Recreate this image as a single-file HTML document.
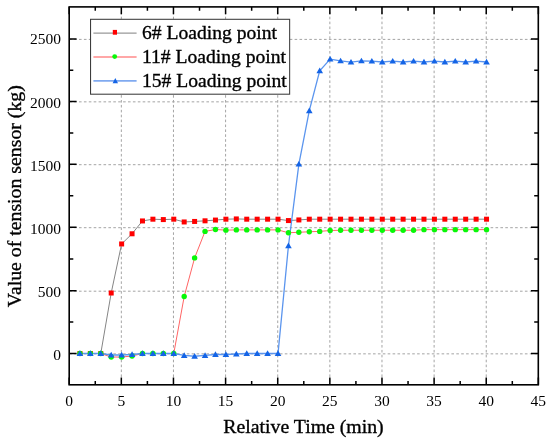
<!DOCTYPE html><html><head><meta charset="utf-8"><style>html,body{margin:0;padding:0;background:#fff;width:550px;height:443px;overflow:hidden}svg{display:block;filter:blur(0.3px)}text{font-family:"Liberation Serif","Times New Roman",serif;fill:#000;stroke:#000;stroke-width:0.35px}text.t{stroke:none}</style></head><body>
<svg width="550" height="443" viewBox="0 0 550 443">
<path d="M121.33 6.90V384.80M173.46 6.90V384.80M225.59 6.90V384.80M277.72 6.90V384.80M329.85 6.90V384.80M381.98 6.90V384.80M434.11 6.90V384.80M486.24 6.90V384.80M69.20 353.85H538.30M69.20 291.20H538.30M69.20 227.70H538.30M69.20 164.70H538.30M69.20 101.85H538.30M69.20 39.40H538.30" stroke="#a4a4a4" stroke-width="1" stroke-dasharray="2.6 2.3" fill="none"/>
<polyline points="79.93,353.50 90.35,353.50 100.78,353.50 111.20,293.01 121.63,243.96 132.06,233.78 142.48,220.95 152.91,219.19 163.33,219.57 173.76,219.19 184.19,221.96 194.61,221.45 205.04,220.82 215.46,220.07 225.89,219.19 236.32,218.94 246.74,219.19 257.17,219.19 267.59,219.19 278.02,219.19 288.45,220.57 298.87,219.94 309.30,219.19 319.72,219.19 330.15,219.19 340.58,219.19 351.00,219.19 361.43,219.19 371.85,219.19 382.28,219.19 392.71,219.19 403.13,219.19 413.56,219.19 423.98,219.19 434.41,219.19 444.84,219.19 455.26,219.19 465.69,219.19 476.11,219.19 486.54,219.19" fill="none" stroke="#858585" stroke-width="1"/>
<polyline points="79.93,353.50 90.35,353.50 100.78,353.50 111.20,357.02 121.63,357.02 132.06,356.02 142.48,353.50 152.91,353.50 163.33,353.50 173.76,353.50 184.19,296.53 194.61,257.92 205.04,231.39 215.46,229.50 225.89,230.13 236.32,229.88 246.74,229.88 257.17,229.88 267.59,229.88 278.02,229.88 288.45,232.77 298.87,232.27 309.30,231.76 319.72,231.39 330.15,230.51 340.58,230.26 351.00,230.26 361.43,230.26 371.85,230.26 382.28,230.26 392.71,230.26 403.13,230.26 413.56,230.26 423.98,229.63 434.41,229.63 444.84,229.63 455.26,229.63 465.69,229.63 476.11,229.63 486.54,229.63" fill="none" stroke="#ff6464" stroke-width="1"/>
<polyline points="79.93,353.50 90.35,353.50 100.78,353.50 111.20,355.01 121.63,355.01 132.06,354.51 142.48,353.50 152.91,353.50 163.33,353.50 173.76,353.50 184.19,355.39 194.61,356.27 205.04,355.39 215.46,354.51 225.89,354.51 236.32,354.00 246.74,353.50 257.17,353.50 267.59,353.50 278.02,353.50 288.45,245.72 298.87,164.11 309.30,110.66 319.72,70.79 330.15,59.10 340.58,60.86 351.00,62.11 361.43,60.86 371.85,61.11 382.28,61.99 392.71,61.11 403.13,61.99 413.56,61.11 423.98,61.99 434.41,61.11 444.84,61.99 455.26,61.11 465.69,61.99 476.11,61.11 486.54,61.99" fill="none" stroke="#5b95ee" stroke-width="1.3"/>
<rect x="77.43" y="351.00" width="5" height="5" fill="#ff0000"/><rect x="87.85" y="351.00" width="5" height="5" fill="#ff0000"/><rect x="98.28" y="351.00" width="5" height="5" fill="#ff0000"/><rect x="108.70" y="290.51" width="5" height="5" fill="#ff0000"/><rect x="119.13" y="241.46" width="5" height="5" fill="#ff0000"/><rect x="129.56" y="231.28" width="5" height="5" fill="#ff0000"/><rect x="139.98" y="218.45" width="5" height="5" fill="#ff0000"/><rect x="150.41" y="216.69" width="5" height="5" fill="#ff0000"/><rect x="160.83" y="217.07" width="5" height="5" fill="#ff0000"/><rect x="171.26" y="216.69" width="5" height="5" fill="#ff0000"/><rect x="181.69" y="219.46" width="5" height="5" fill="#ff0000"/><rect x="192.11" y="218.95" width="5" height="5" fill="#ff0000"/><rect x="202.54" y="218.32" width="5" height="5" fill="#ff0000"/><rect x="212.96" y="217.57" width="5" height="5" fill="#ff0000"/><rect x="223.39" y="216.69" width="5" height="5" fill="#ff0000"/><rect x="233.82" y="216.44" width="5" height="5" fill="#ff0000"/><rect x="244.24" y="216.69" width="5" height="5" fill="#ff0000"/><rect x="254.67" y="216.69" width="5" height="5" fill="#ff0000"/><rect x="265.09" y="216.69" width="5" height="5" fill="#ff0000"/><rect x="275.52" y="216.69" width="5" height="5" fill="#ff0000"/><rect x="285.95" y="218.07" width="5" height="5" fill="#ff0000"/><rect x="296.37" y="217.44" width="5" height="5" fill="#ff0000"/><rect x="306.80" y="216.69" width="5" height="5" fill="#ff0000"/><rect x="317.22" y="216.69" width="5" height="5" fill="#ff0000"/><rect x="327.65" y="216.69" width="5" height="5" fill="#ff0000"/><rect x="338.08" y="216.69" width="5" height="5" fill="#ff0000"/><rect x="348.50" y="216.69" width="5" height="5" fill="#ff0000"/><rect x="358.93" y="216.69" width="5" height="5" fill="#ff0000"/><rect x="369.35" y="216.69" width="5" height="5" fill="#ff0000"/><rect x="379.78" y="216.69" width="5" height="5" fill="#ff0000"/><rect x="390.21" y="216.69" width="5" height="5" fill="#ff0000"/><rect x="400.63" y="216.69" width="5" height="5" fill="#ff0000"/><rect x="411.06" y="216.69" width="5" height="5" fill="#ff0000"/><rect x="421.48" y="216.69" width="5" height="5" fill="#ff0000"/><rect x="431.91" y="216.69" width="5" height="5" fill="#ff0000"/><rect x="442.34" y="216.69" width="5" height="5" fill="#ff0000"/><rect x="452.76" y="216.69" width="5" height="5" fill="#ff0000"/><rect x="463.19" y="216.69" width="5" height="5" fill="#ff0000"/><rect x="473.61" y="216.69" width="5" height="5" fill="#ff0000"/><rect x="484.04" y="216.69" width="5" height="5" fill="#ff0000"/><circle cx="79.93" cy="353.50" r="2.7" fill="#08f808"/><circle cx="90.35" cy="353.50" r="2.7" fill="#08f808"/><circle cx="100.78" cy="353.50" r="2.7" fill="#08f808"/><circle cx="111.20" cy="357.02" r="2.7" fill="#08f808"/><circle cx="121.63" cy="357.02" r="2.7" fill="#08f808"/><circle cx="132.06" cy="356.02" r="2.7" fill="#08f808"/><circle cx="142.48" cy="353.50" r="2.7" fill="#08f808"/><circle cx="152.91" cy="353.50" r="2.7" fill="#08f808"/><circle cx="163.33" cy="353.50" r="2.7" fill="#08f808"/><circle cx="173.76" cy="353.50" r="2.7" fill="#08f808"/><circle cx="184.19" cy="296.53" r="2.7" fill="#08f808"/><circle cx="194.61" cy="257.92" r="2.7" fill="#08f808"/><circle cx="205.04" cy="231.39" r="2.7" fill="#08f808"/><circle cx="215.46" cy="229.50" r="2.7" fill="#08f808"/><circle cx="225.89" cy="230.13" r="2.7" fill="#08f808"/><circle cx="236.32" cy="229.88" r="2.7" fill="#08f808"/><circle cx="246.74" cy="229.88" r="2.7" fill="#08f808"/><circle cx="257.17" cy="229.88" r="2.7" fill="#08f808"/><circle cx="267.59" cy="229.88" r="2.7" fill="#08f808"/><circle cx="278.02" cy="229.88" r="2.7" fill="#08f808"/><circle cx="288.45" cy="232.77" r="2.7" fill="#08f808"/><circle cx="298.87" cy="232.27" r="2.7" fill="#08f808"/><circle cx="309.30" cy="231.76" r="2.7" fill="#08f808"/><circle cx="319.72" cy="231.39" r="2.7" fill="#08f808"/><circle cx="330.15" cy="230.51" r="2.7" fill="#08f808"/><circle cx="340.58" cy="230.26" r="2.7" fill="#08f808"/><circle cx="351.00" cy="230.26" r="2.7" fill="#08f808"/><circle cx="361.43" cy="230.26" r="2.7" fill="#08f808"/><circle cx="371.85" cy="230.26" r="2.7" fill="#08f808"/><circle cx="382.28" cy="230.26" r="2.7" fill="#08f808"/><circle cx="392.71" cy="230.26" r="2.7" fill="#08f808"/><circle cx="403.13" cy="230.26" r="2.7" fill="#08f808"/><circle cx="413.56" cy="230.26" r="2.7" fill="#08f808"/><circle cx="423.98" cy="229.63" r="2.7" fill="#08f808"/><circle cx="434.41" cy="229.63" r="2.7" fill="#08f808"/><circle cx="444.84" cy="229.63" r="2.7" fill="#08f808"/><circle cx="455.26" cy="229.63" r="2.7" fill="#08f808"/><circle cx="465.69" cy="229.63" r="2.7" fill="#08f808"/><circle cx="476.11" cy="229.63" r="2.7" fill="#08f808"/><circle cx="486.54" cy="229.63" r="2.7" fill="#08f808"/><path d="M79.93 350.30L83.23 356.00H76.63Z" fill="#1464e6"/><path d="M90.35 350.30L93.65 356.00H87.05Z" fill="#1464e6"/><path d="M100.78 350.30L104.08 356.00H97.48Z" fill="#1464e6"/><path d="M111.20 351.81L114.50 357.51H107.90Z" fill="#1464e6"/><path d="M121.63 351.81L124.93 357.51H118.33Z" fill="#1464e6"/><path d="M132.06 351.31L135.36 357.01H128.76Z" fill="#1464e6"/><path d="M142.48 350.30L145.78 356.00H139.18Z" fill="#1464e6"/><path d="M152.91 350.30L156.21 356.00H149.61Z" fill="#1464e6"/><path d="M163.33 350.30L166.63 356.00H160.03Z" fill="#1464e6"/><path d="M173.76 350.30L177.06 356.00H170.46Z" fill="#1464e6"/><path d="M184.19 352.19L187.49 357.89H180.89Z" fill="#1464e6"/><path d="M194.61 353.07L197.91 358.77H191.31Z" fill="#1464e6"/><path d="M205.04 352.19L208.34 357.89H201.74Z" fill="#1464e6"/><path d="M215.46 351.31L218.76 357.01H212.16Z" fill="#1464e6"/><path d="M225.89 351.31L229.19 357.01H222.59Z" fill="#1464e6"/><path d="M236.32 350.80L239.62 356.50H233.02Z" fill="#1464e6"/><path d="M246.74 350.30L250.04 356.00H243.44Z" fill="#1464e6"/><path d="M257.17 350.30L260.47 356.00H253.87Z" fill="#1464e6"/><path d="M267.59 350.30L270.89 356.00H264.29Z" fill="#1464e6"/><path d="M278.02 350.30L281.32 356.00H274.72Z" fill="#1464e6"/><path d="M288.45 242.52L291.75 248.22H285.15Z" fill="#1464e6"/><path d="M298.87 160.91L302.17 166.61H295.57Z" fill="#1464e6"/><path d="M309.30 107.46L312.60 113.16H306.00Z" fill="#1464e6"/><path d="M319.72 67.59L323.02 73.29H316.42Z" fill="#1464e6"/><path d="M330.15 55.90L333.45 61.60H326.85Z" fill="#1464e6"/><path d="M340.58 57.66L343.88 63.36H337.28Z" fill="#1464e6"/><path d="M351.00 58.91L354.30 64.61H347.70Z" fill="#1464e6"/><path d="M361.43 57.66L364.73 63.36H358.13Z" fill="#1464e6"/><path d="M371.85 57.91L375.15 63.61H368.55Z" fill="#1464e6"/><path d="M382.28 58.79L385.58 64.49H378.98Z" fill="#1464e6"/><path d="M392.71 57.91L396.01 63.61H389.41Z" fill="#1464e6"/><path d="M403.13 58.79L406.43 64.49H399.83Z" fill="#1464e6"/><path d="M413.56 57.91L416.86 63.61H410.26Z" fill="#1464e6"/><path d="M423.98 58.79L427.28 64.49H420.68Z" fill="#1464e6"/><path d="M434.41 57.91L437.71 63.61H431.11Z" fill="#1464e6"/><path d="M444.84 58.79L448.14 64.49H441.54Z" fill="#1464e6"/><path d="M455.26 57.91L458.56 63.61H451.96Z" fill="#1464e6"/><path d="M465.69 58.79L468.99 64.49H462.39Z" fill="#1464e6"/><path d="M476.11 57.91L479.41 63.61H472.81Z" fill="#1464e6"/><path d="M486.54 58.79L489.84 64.49H483.24Z" fill="#1464e6"/>
<path d="M69.20 384.80v-7.4M69.20 6.90v7.4M95.27 384.80v-3.9M95.27 6.90v3.9M121.33 384.80v-7.4M121.33 6.90v7.4M147.40 384.80v-3.9M147.40 6.90v3.9M173.46 384.80v-7.4M173.46 6.90v7.4M199.52 384.80v-3.9M199.52 6.90v3.9M225.59 384.80v-7.4M225.59 6.90v7.4M251.66 384.80v-3.9M251.66 6.90v3.9M277.72 384.80v-7.4M277.72 6.90v7.4M303.79 384.80v-3.9M303.79 6.90v3.9M329.85 384.80v-7.4M329.85 6.90v7.4M355.92 384.80v-3.9M355.92 6.90v3.9M381.98 384.80v-7.4M381.98 6.90v7.4M408.05 384.80v-3.9M408.05 6.90v3.9M434.11 384.80v-7.4M434.11 6.90v7.4M460.18 384.80v-3.9M460.18 6.90v3.9M486.24 384.80v-7.4M486.24 6.90v7.4M512.31 384.80v-3.9M512.31 6.90v3.9M538.37 384.80v-7.4M538.37 6.90v7.4M69.20 353.45h7.4M538.30 353.45h-7.4M69.20 322.12h4.1M538.30 322.12h-4.1M69.20 290.80h7.4M538.30 290.80h-7.4M69.20 259.05h4.1M538.30 259.05h-4.1M69.20 227.30h7.4M538.30 227.30h-7.4M69.20 195.80h4.1M538.30 195.80h-4.1M69.20 164.30h7.4M538.30 164.30h-7.4M69.20 132.88h4.1M538.30 132.88h-4.1M69.20 101.45h7.4M538.30 101.45h-7.4M69.20 70.22h4.1M538.30 70.22h-4.1M69.20 39.00h7.4M538.30 39.00h-7.4" stroke="#000" stroke-width="1.5" fill="none"/>
<rect x="69.20" y="6.90" width="469.10" height="377.90" fill="none" stroke="#000" stroke-width="1.6"/>
<text class="t" x="69.20" y="406.2" font-size="15.5" text-anchor="middle">0</text>
<text class="t" x="121.33" y="406.2" font-size="15.5" text-anchor="middle">5</text>
<text class="t" x="173.46" y="406.2" font-size="15.5" text-anchor="middle">10</text>
<text class="t" x="225.59" y="406.2" font-size="15.5" text-anchor="middle">15</text>
<text class="t" x="277.72" y="406.2" font-size="15.5" text-anchor="middle">20</text>
<text class="t" x="329.85" y="406.2" font-size="15.5" text-anchor="middle">25</text>
<text class="t" x="381.98" y="406.2" font-size="15.5" text-anchor="middle">30</text>
<text class="t" x="434.11" y="406.2" font-size="15.5" text-anchor="middle">35</text>
<text class="t" x="486.24" y="406.2" font-size="15.5" text-anchor="middle">40</text>
<text class="t" x="538.37" y="406.2" font-size="15.5" text-anchor="middle">45</text>
<text class="t" x="61.1" y="360.00" font-size="15.5" text-anchor="end">0</text>
<text class="t" x="61.1" y="296.89" font-size="15.5" text-anchor="end">500</text>
<text class="t" x="61.1" y="233.78" font-size="15.5" text-anchor="end">1000</text>
<text class="t" x="61.1" y="170.66" font-size="15.5" text-anchor="end">1500</text>
<text class="t" x="61.1" y="107.55" font-size="15.5" text-anchor="end">2000</text>
<text class="t" x="61.1" y="44.44" font-size="15.5" text-anchor="end">2500</text>
<text x="303.5" y="433.3" font-size="19.8" text-anchor="middle">Relative Time (min)</text>
<text transform="translate(20.8 196.2) rotate(-90)" x="0" y="0" font-size="19.8" text-anchor="middle">Value of tension sensor (kg)</text>
<rect x="90.55" y="19.3" width="199.1" height="74.9" fill="#fff" stroke="#3a3a3a" stroke-width="1.05"/>
<path d="M93.4 33.1H136.6" stroke="#999999" stroke-width="1.3"/>
<rect x="112.8" y="29.90" width="4.2" height="4.8" fill="#ff0000"/>
<text x="142.0" y="38.60" font-size="19.6">6# Loading point</text>
<path d="M93.4 57.0H136.6" stroke="#ff8a8a" stroke-width="1.6"/>
<circle cx="114.7" cy="56.60" r="2.4" fill="#08f808"/>
<text x="142.0" y="62.80" font-size="19.6">11# Loading point</text>
<path d="M93.4 80.9H136.6" stroke="#80aaf0" stroke-width="1.6"/>
<path d="M115.3 78.00L118 83.30H112.6Z" fill="#1464e6"/>
<text x="142.0" y="87.20" font-size="19.6">15# Loading point</text>
</svg></body></html>
